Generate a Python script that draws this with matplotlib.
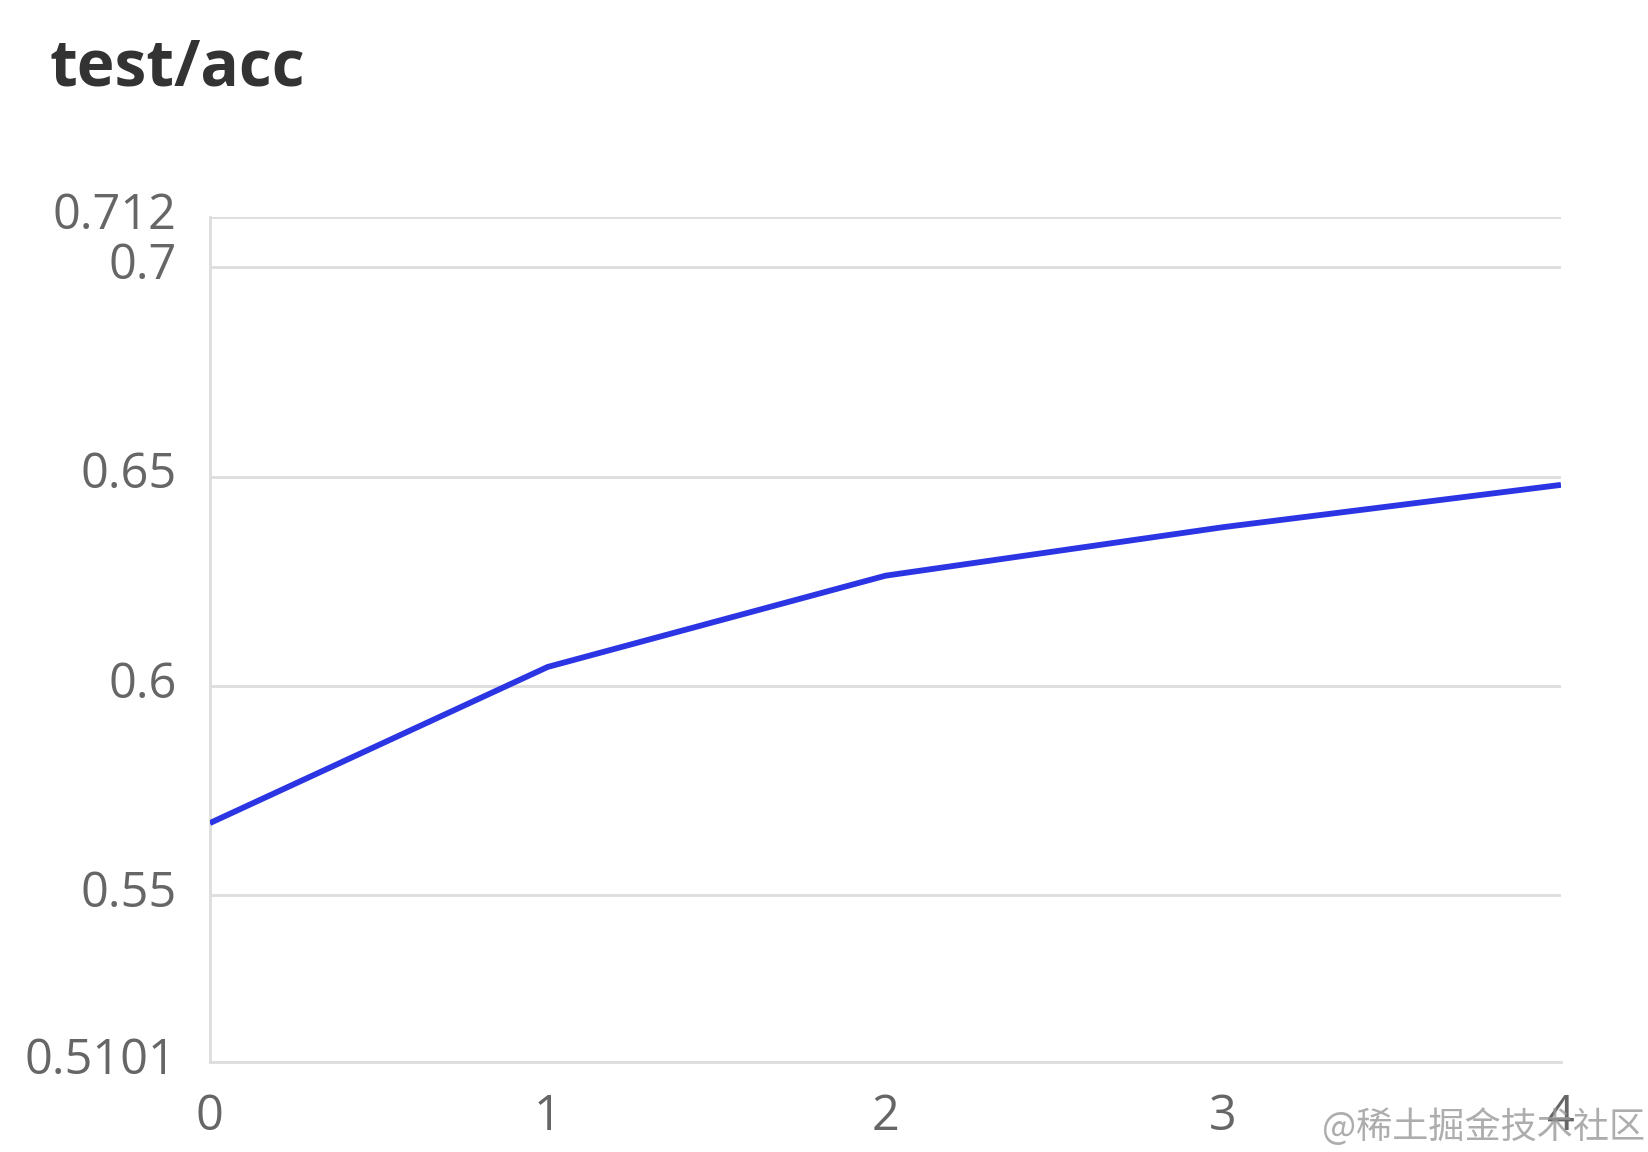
import matplotlib.pyplot as plt
from matplotlib.transforms import ScaledTranslation

plt.rcParams["font.family"] = ["Open Sans", "DejaVu Sans"]

steps = [0, 1, 2, 3, 4]
acc = [0.5672, 0.6045, 0.6263, 0.6379, 0.6480]
yticks = [0.5101, 0.55, 0.6, 0.65, 0.7, 0.712]
ytick_labels = ["0.5101", "0.55", "0.6", "0.65", "0.7", "0.712"]

fig = plt.figure(figsize=(16.49, 11.52), dpi=100)
ax = fig.add_axes([0.1273, 0.0781, 0.8193, 0.7335])

ax.plot(steps, acc, color="#2b35e3", lw=4.2, solid_capstyle="butt", zorder=3)

ax.set_xlim(0, 4)
ax.set_ylim(0.5101, 0.712)
ax.set_xticks(steps)
ax.set_yticks(yticks)
ax.set_yticklabels(ytick_labels)
ax.tick_params(axis="both", length=0, labelsize=35, labelcolor="#666666")
ax.tick_params(axis="y", pad=24)
ax.tick_params(axis="x", pad=22)

# labels sit a little above their gridlines in the original
shift = ScaledTranslation(0, 0.07, fig.dpi_scale_trans)
for lab in ax.get_yticklabels():
    lab.set_transform(lab.get_transform() + shift)

ax.grid(axis="y", color="#dddddd", lw=2)
ax.grid(axis="x", visible=False)
for s in ["top", "right"]:
    ax.spines[s].set_visible(False)
for s in ["left", "bottom"]:
    ax.spines[s].set_color("#dddddd")
    ax.spines[s].set_linewidth(2)

fig.text(0.030, 0.926, "test/acc", fontsize=46, fontweight="bold", color="#333333")
fig.text(0.802, 0.012, "@稀土掘金技术社区", fontsize=26, color="#999999", alpha=0.8,
         family=["Noto Sans CJK SC", "DejaVu Sans"])

fig.savefig("out.png", dpi=100)
